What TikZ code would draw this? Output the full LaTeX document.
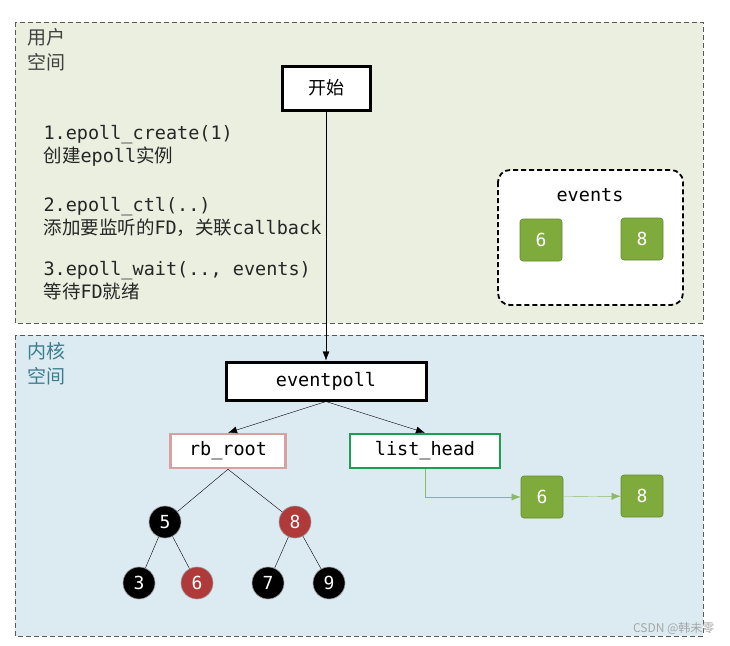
\documentclass[tikz,border=0pt]{standalone}
\usepackage{fontspec}
\setmainfont{DejaVu Sans Mono}
\newfontfamily\cjk{Noto Sans CJK SC}
\usetikzlibrary{arrows.meta}
\definecolor{userbg}{HTML}{EBEFDF}
\definecolor{kernbg}{HTML}{DCEBF2}
\definecolor{rbred}{HTML}{B03A3A}
\definecolor{rbpink}{HTML}{D9A0A0}
\definecolor{lgreen}{HTML}{1E9E50}
\definecolor{sqgreen}{HTML}{7FAA3C}
\definecolor{lnkgreen}{HTML}{8DB864}
\definecolor{kernteal}{HTML}{3C7D8C}
\tikzset{>={Latex[length=9pt,width=7pt]}}
\tikzset{
  area/.style={draw=black!65, dashed, line width=0.9pt, dash pattern=on 5pt off 3pt},
  box/.style={draw, line width=3pt, fill=white, inner sep=0pt},
  txt/.style={font=\fontsize{18.5}{23}\selectfont},
  calltxt/.style={txt, anchor=north west, align=left, text=black!85},
  rb/.style={circle, minimum size=32pt, inner sep=0pt, text=white,
    font=\fontsize{18}{22}\selectfont, draw=black!40, line width=0.6pt},
  fd/.style={rounded corners=3pt, fill=sqgreen, minimum size=42pt, inner sep=0pt,
    text=white, font=\fontsize{18}{22}\selectfont, draw=sqgreen!80!black, line width=0.6pt},
}
\begin{document}
\begin{tikzpicture}[x=1pt,y=-1pt]
\useasboundingbox (0,0) rectangle (730,645);
%areas
\fill[userbg] (15,22) rectangle (703,323);
\draw[area] (15,22) rectangle (703,323);
\fill[kernbg] (15,335) rectangle (703,636);
\draw[area] (15,335) rectangle (703,636);
\node[anchor=north west, align=left, font=\cjk\fontsize{19}{25}\selectfont, text=black!75] (user) at (24,25) {用户\\空间};
\node[anchor=north west, align=left, font=\cjk\fontsize{19}{25}\selectfont, text=kernteal] (kern) at (24,339) {内核\\空间};
%steps
\node[calltxt] (s1) at (40,122) {1.epoll\_create(1)\\{\cjk 创建}epoll{\cjk 实例}};
\node[calltxt] (s2) at (40,194) {2.epoll\_ctl(..)\\{\cjk 添加要监听的}FD{\cjk ，关联}callback};
\node[calltxt] (s3) at (40,258) {3.epoll\_wait(.., events)\\{\cjk 等待}FD{\cjk 就绪}};
%events
\draw[fill=white, dashed, line width=1.8pt, dash pattern=on 5pt off 3pt, rounded corners=12pt] (498,170) rectangle (683,305);
\node[txt] (events) at (590,195) {events};
\node[fd] (e6) at (541,240) {6};
\node[fd] (e8) at (642,239) {8};
%main boxes
\node[box, minimum width=88pt, minimum height=44pt, font=\cjk\fontsize{18}{22}\selectfont] (start) at (326,88) {开始};
\node[box, txt, minimum width=200pt, minimum height=38pt] (epoll) at (326,381) {eventpoll};
\node[draw=rbpink, line width=2.5pt, fill=white, txt, minimum width=115pt, minimum height=34pt] (root) at (228,451) {rb\_root};
\node[draw=lgreen, line width=2.5pt, fill=white, txt, minimum width=150pt, minimum height=34pt] (head) at (425,451) {list\_head};
%tree
\node[rb, fill=black] (n5) at (165,522) {5};
\node[rb, fill=rbred] (n8) at (295,522) {8};
\node[rb, fill=black] (n3) at (139,583) {3};
\node[rb, fill=rbred] (n6) at (197,583) {6};
\node[rb, fill=black] (n7) at (268,583) {7};
\node[rb, fill=black] (n9) at (329,583) {9};
%list
\node[fd] (l6) at (542,497) {6};
\node[fd] (l8) at (642,496) {8};
%links
\draw[->] (start) -- (epoll);
\draw[->] (epoll.south) -- (root.north);
\draw[->] (epoll.south) -- (head.north);
\draw (root.south) -- (n5);
\draw (root.south) -- (n8);
\draw (n5) -- (n3);
\draw (n5) -- (n6);
\draw (n8) -- (n7);
\draw (n8) -- (n9);
\draw[->, lnkgreen] (head.south) |- (l6);
\draw[->, lnkgreen] (l6) -- (l8);
\node[anchor=south east, font=\cjk\fontsize{12}{14}\selectfont, text=black!35] (mark) at (718,638) {CSDN @韩未零};
\end{tikzpicture}
\end{document}
